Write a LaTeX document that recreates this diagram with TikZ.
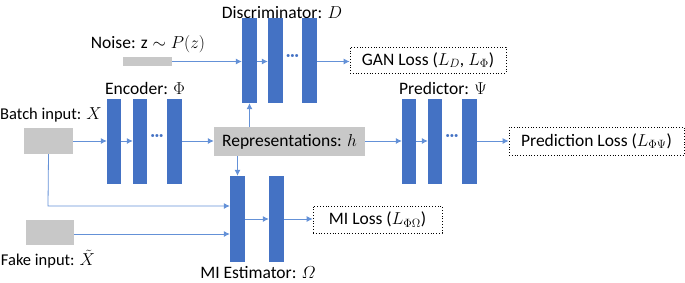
\documentclass[tikz,border=0pt]{standalone}
\usepackage{amsmath}
\usepackage{fontspec}
\setmainfont{Carlito}
\usetikzlibrary{arrows.meta}
\definecolor{barblue}{RGB}{68,114,196}
\definecolor{lineblue}{RGB}{100,145,215}
\definecolor{boxgray}{RGB}{200,200,200}
\tikzset{
  bar/.style={fill=barblue, draw=none, inner sep=0pt},
  grayrect/.style={fill=boxgray, draw=none, inner sep=0pt},
  lossbox/.style={draw=black, dotted, thick, inner sep=0pt},
  lbl/.style={font=\fontsize{17.5}{20}\selectfont, inner sep=0pt},
  smalllbl/.style={font=\fontsize{16.5}{19}\selectfont, inner sep=0pt},
  conn/.style={draw=lineblue, line width=0.8pt, -{Latex[length=6pt,width=6pt]}},
  dots/.style={text=barblue, font=\fontsize{16}{18}\selectfont\bfseries, inner sep=0pt},
}
\begin{document}
\begin{tikzpicture}[x=1pt,y=-1pt]
\useasboundingbox (0,0) rectangle (685,282);
% Noise
\node[grayrect, minimum width=49pt, minimum height=9pt] (noise) at (147.5,61.5) {};
\node[lbl] (noiselbl) at (148,44) {Noise: $\mathrm{z}\sim P(z)$};
% Discriminator
\node[lbl] (disclbl) at (282,13) {Discriminator: $D$};
\node[bar, minimum width=15pt, minimum height=85pt] (d1) at (249.5,60.5) {};
\node[bar, minimum width=15pt, minimum height=85pt] (d2) at (275.5,60.5) {};
\node[bar, minimum width=15pt, minimum height=85pt] (d3) at (309.5,60.5) {};
\node[dots] (ddots) at (292.5,58) {···};
\node[lossbox, minimum width=156pt, minimum height=26pt, lbl] (gan) at (428,60) {GAN Loss ($L_D$, $L_\Phi$)};
% Encoder
\node[lbl] (enclbl) at (145,88) {Encoder: $\Phi$};
\node[bar, minimum width=14pt, minimum height=85pt] (e1) at (114,141.5) {};
\node[bar, minimum width=14pt, minimum height=85pt] (e2) at (140,141.5) {};
\node[bar, minimum width=15pt, minimum height=85pt] (e3) at (174.5,141.5) {};
\node[dots] (edots) at (157,138) {···};
% Batch input
\node[smalllbl, anchor=west] (batchlbl) at (0,115) {Batch input: $X$};
\node[grayrect, minimum width=49pt, minimum height=26pt] (batch) at (48.5,141) {};
% Representations
\node[grayrect, minimum width=151pt, minimum height=29pt, lbl] (rep) at (289.5,141.5) {Representations: $h$};
% Predictor
\node[lbl] (predlbl) at (443,88) {Predictor: $\Psi$};
\node[bar, minimum width=14pt, minimum height=85pt] (p1) at (409,141.5) {};
\node[bar, minimum width=14pt, minimum height=85pt] (p2) at (435,141.5) {};
\node[bar, minimum width=15pt, minimum height=85pt] (p3) at (469.5,141.5) {};
\node[dots] (pdots) at (452,138) {···};
\node[lossbox, minimum width=175pt, minimum height=28pt, lbl] (pred) at (596.5,141) {Prediction Loss ($L_{\Phi\Psi}$)};
% MI estimator
\node[bar, minimum width=15pt, minimum height=86pt] (m1) at (237.5,219) {};
\node[bar, minimum width=15pt, minimum height=86pt] (m2) at (276.5,219) {};
\node[lbl] (milbl) at (258,273) {MI Estimator: $\varOmega$};
\node[lossbox, minimum width=129pt, minimum height=27pt, lbl] (mi) at (377.5,219.5) {MI Loss ($L_{\Phi\Omega}$)};
% Fake input
\node[grayrect, minimum width=48pt, minimum height=25pt] (fake) at (50,232.5) {};
\node[smalllbl] (fakelbl) at (48,259) {Fake input: $\tilde{X}$};
% connectors
\draw[conn] (noise.east) -- (noise.east -| d1.west);
\draw[conn] (d1.east |- noise.east) -- (d2.west |- noise.east);
\draw[conn] (d3.east |- noise.east) -- (gan.west |- noise.east);
\draw[conn] (rep.north -| d1.center) -- (d1.south);
\draw[conn] (batch.east) -- (batch.east -| e1.west);
\draw[conn] (e1.east |- batch.east) -- (e2.west |- batch.east);
\draw[conn] (e3.east |- batch.east) -- (rep.west |- batch.east);
\draw[conn] (rep.east |- batch.east) -- (p1.west |- batch.east);
\draw[conn] (p1.east |- batch.east) -- (p2.west |- batch.east);
\draw[conn] (p3.east |- batch.east) -- (pred.west |- batch.east);
\draw[conn] (rep.south -| m1.center) -- (m1.north);
\coordinate (bturn) at (48,206);
\draw[conn] (batch.south) -- (bturn) -- (bturn -| m1.west);
\draw[conn] (fake.east |- 0,234) -- (m1.west |- 0,234);
\draw[conn] (m1.east) -- (m2.west);
\draw[conn] (m2.east) -- (mi.west |- m2.east);
\end{tikzpicture}
\end{document}
